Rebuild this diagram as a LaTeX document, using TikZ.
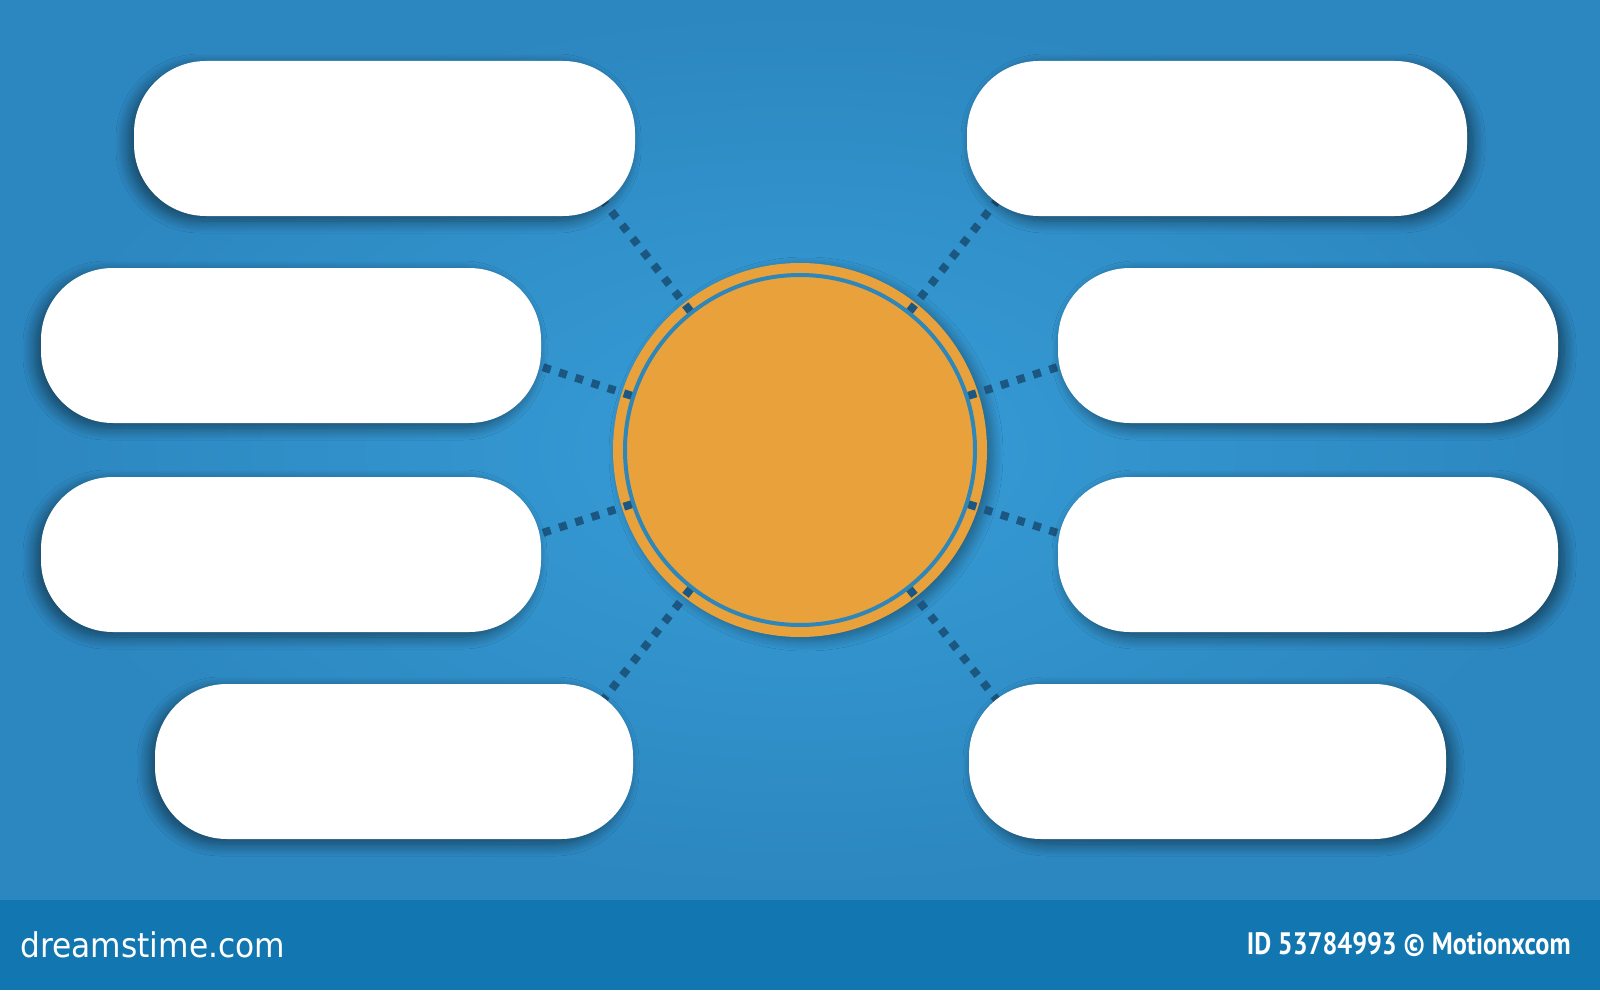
\documentclass[tikz,border=0pt]{standalone}
\usepackage{fontspec}
\usetikzlibrary{shadows.blur}
\definecolor{bgin}{HTML}{379DD7}
\definecolor{bgout}{HTML}{2C86BF}
\definecolor{barblue}{HTML}{1277B0}
\definecolor{orng}{HTML}{E9A23B}
\definecolor{ringblue}{HTML}{2E86B9}
\definecolor{dashblue}{HTML}{1B5781}
\newfontfamily\idfont{PT Sans}
\newfontfamily\dsfont{DejaVu Sans}
\begin{document}
\begin{tikzpicture}[x=0.5pt,y=-0.5pt,
  pill/.style={rectangle, fill=white, rounded corners=36pt, minimum height=77.5pt, inner sep=0pt},
  lshadow/.style={blur shadow={shadow xshift=-3pt, shadow yshift=-2.5pt, shadow blur radius=6pt, shadow opacity=50, shadow blur steps=12}},
  rshadow/.style={blur shadow={shadow xshift=3pt, shadow yshift=-2.5pt, shadow blur radius=6pt, shadow opacity=50, shadow blur steps=12}},
  conn/.style={draw=dashblue, line width=4pt, dash pattern=on 4pt off 4.5pt},
  bartext/.style={text=white, inner sep=0pt}
]
\useasboundingbox (0,0) rectangle (1600,990);
% background
\shade[inner color=bgin, outer color=bgout] (0,0) rectangle (1600,900);
\fill[barblue] (0,900) rectangle (1600,990);

% central circle
\node[circle, fill=orng, minimum size=187pt, inner sep=0pt,
      blur shadow={shadow xshift=3pt, shadow yshift=-2pt, shadow blur radius=5pt, shadow opacity=35, shadow blur steps=10}] (co) at (800,450) {};
\node[circle, fill=orng, draw=ringblue, line width=2pt, minimum size=175pt, inner sep=0pt] (c) at (800,450) {};

% connector targets
\coordinate (t1) at (555,140);
\coordinate (t2) at (474,345);
\coordinate (t3) at (474,555);
\coordinate (t4) at (555,761);
\coordinate (t5) at (1045,140);
\coordinate (t6) at (1126,345);
\coordinate (t7) at (1126,555);
\coordinate (t8) at (1045,761);
\foreach \t in {t1,t2,t3,t4,t5,t6,t7,t8}{
  \draw[conn] (c) -- (\t);
}

% pills
\node[pill, lshadow, minimum width=250.5pt] (L1) at (384.5,138.5) {};
\node[pill, lshadow, minimum width=250pt] (L2) at (291,345.5) {};
\node[pill, lshadow, minimum width=250pt] (L3) at (291,554.5) {};
\node[pill, lshadow, minimum width=239pt] (L4) at (394,761.5) {};
\node[pill, rshadow, minimum width=250pt] (R1) at (1217,138.5) {};
\node[pill, rshadow, minimum width=250pt] (R2) at (1308,345.5) {};
\node[pill, rshadow, minimum width=250pt] (R3) at (1308,554.5) {};
\node[pill, rshadow, minimum width=238.5pt] (R4) at (1207.5,761.5) {};

% footer texts
\node[bartext, anchor=west, font=\dsfont\fontsize{17}{20}\selectfont] (ds) at (20,945) {\scalebox{0.92}[1]{dreamstime.com}};
\node[bartext, anchor=east, font=\idfont\bfseries\fontsize{15.5}{18}\selectfont] (id) at (1571,945) {\scalebox{0.845}[1]{ID 53784993 © Motionxcom}};
\end{tikzpicture}
\end{document}
